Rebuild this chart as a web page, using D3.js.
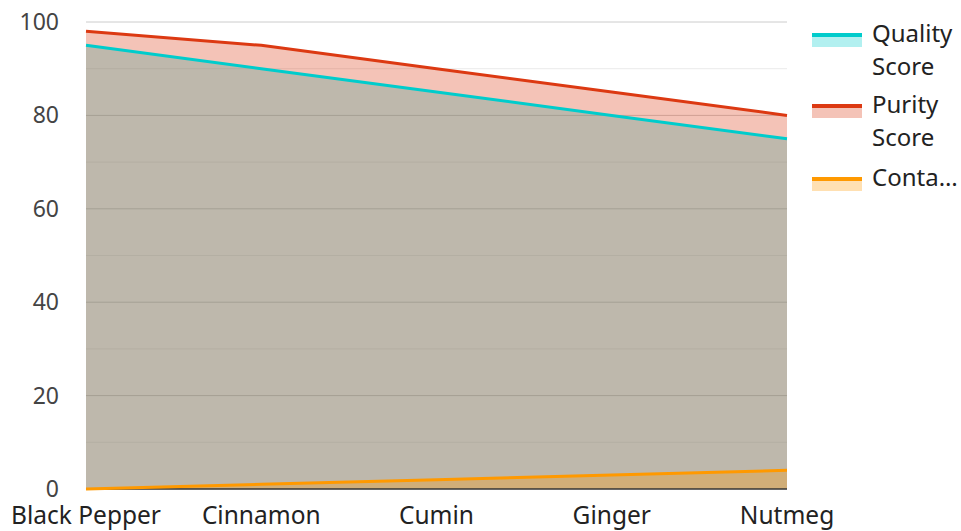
<!DOCTYPE html>
<html>
<head>
<meta charset="utf-8">
<script src="https://cdn.jsdelivr.net/npm/d3@7"></script>
<style>
  body { margin: 0; background: #fff; }
  text { font-family: "Noto Sans", "Open Sans", sans-serif; }
</style>
</head>
<body>
<div id="chart"></div>
<script>
// Data
const categories = ["Black Pepper", "Cinnamon", "Cumin", "Ginger", "Nutmeg"];
const qualityScore = [95, 90, 85, 80, 75];
const purityScore = [98, 95, 90, 85, 80];
const contamination = [0, 1, 2, 3, 4];
const seriesNames = ["Quality Score", "Purity Score", "Contamination"];
const legendLines = [["Quality", "Score"], ["Purity", "Score"], ["Conta…"]];
const seriesColors = ["#00cccc", "#dc3912", "#ff9900"];
const yTicks = [0, 20, 40, 60, 80, 100];
const yMinor = [10, 30, 50, 70, 90];

const width = 961, height = 531;
const margin = {top: 22, right: 174, bottom: 42, left: 86};
const innerW = width - margin.left - margin.right;
const innerH = height - margin.top - margin.bottom;

const svg = d3.select("#chart").append("svg")
  .attr("width", width)
  .attr("height", height);

const g = svg.append("g")
  .attr("transform", `translate(${margin.left},${margin.top})`);

const x = d3.scalePoint().domain(categories).range([0, innerW]);
const y = d3.scaleLinear().domain([0, 100]).range([innerH, 0]);

// gridlines
g.selectAll(".minor").data(yMinor).enter().append("line")
  .attr("x1", 0).attr("x2", innerW)
  .attr("y1", d => y(d)).attr("y2", d => y(d))
  .attr("stroke", "#ebebeb").attr("stroke-width", 1);

g.selectAll(".major").data(yTicks.filter(d => d > 0)).enter().append("line")
  .attr("x1", 0).attr("x2", innerW)
  .attr("y1", d => y(d)).attr("y2", d => y(d))
  .attr("stroke", "#cccccc").attr("stroke-width", 1);

const series = [qualityScore, purityScore, contamination];

const area = d3.area()
  .x((d, i) => x(categories[i]))
  .y0(y(0))
  .y1(d => y(d));

const line = d3.line()
  .x((d, i) => x(categories[i]))
  .y(d => y(d));

series.forEach((vals, k) => {
  g.append("path")
    .datum(vals)
    .attr("d", area)
    .attr("fill", seriesColors[k])
    .attr("fill-opacity", 0.3);
});

// baseline
g.append("line")
  .attr("x1", 0).attr("x2", innerW)
  .attr("y1", y(0)).attr("y2", y(0))
  .attr("stroke", "#333").attr("stroke-width", 1.5);

series.forEach((vals, k) => {
  g.append("path")
    .datum(vals)
    .attr("d", line)
    .attr("fill", "none")
    .attr("stroke", seriesColors[k])
    .attr("stroke-width", 3);
});

// y axis labels
g.selectAll(".ylab").data(yTicks).enter().append("text")
  .attr("x", -27)
  .attr("y", d => y(d))
  .attr("dy", "0.35em")
  .attr("text-anchor", "end")
  .attr("font-size", 23)
  .attr("fill", "#444")
  .text(d => d);

// x axis labels
g.selectAll(".xlab").data(categories).enter().append("text")
  .attr("x", d => x(d))
  .attr("y", innerH + 35)
  .attr("text-anchor", "middle")
  .attr("font-size", 24.5)
  .attr("fill", "#222")
  .text(d => d);

// legend
const legend = svg.append("g").attr("transform", "translate(812,0)");
const legendY = [34, 105, 178];
seriesNames.forEach((name, k) => {
  const lg = legend.append("g").attr("transform", `translate(0,${legendY[k]})`);
  lg.append("rect")
    .attr("x", 0).attr("y", 0).attr("width", 50).attr("height", 13)
    .attr("fill", seriesColors[k]).attr("fill-opacity", 0.3);
  lg.append("rect")
    .attr("x", 0).attr("y", -1).attr("width", 50).attr("height", 4)
    .attr("fill", seriesColors[k]);
  legendLines[k].forEach((t, j) => {
    lg.append("text")
      .attr("x", 60)
      .attr("y", 8 + j * 33)
      .attr("font-size", 24)
      .attr("fill", "#222")
      .text(t);
  });
});
</script>
</body>
</html>
